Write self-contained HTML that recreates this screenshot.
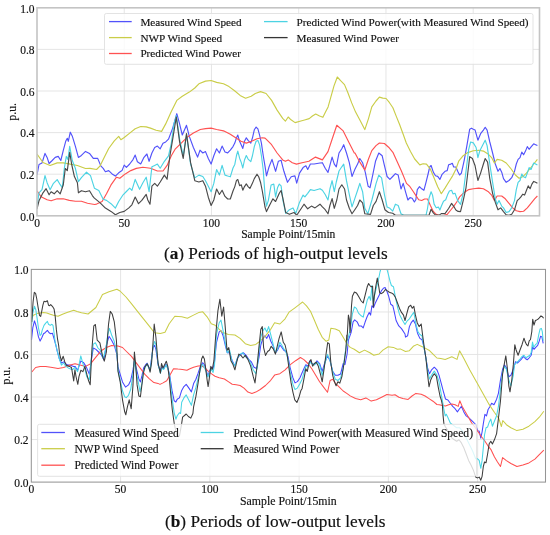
<!DOCTYPE html>
<html><head><meta charset="utf-8"><style>
html,body{margin:0;padding:0;background:#fff;}
svg{display:block;filter:blur(0.35px);}
text{font-family:"Liberation Serif", "DejaVu Serif", serif;fill:#111;stroke:#111;stroke-width:0.15px;}
</style></head><body>
<svg width="550" height="535" viewBox="0 0 550 535">
<rect width="550" height="535" fill="#fff"/>
<line x1="124.24" y1="7.8" x2="124.24" y2="215.8" stroke="#e2e2e2" stroke-width="0.9"/>
<line x1="211.48" y1="7.8" x2="211.48" y2="215.8" stroke="#e2e2e2" stroke-width="0.9"/>
<line x1="298.72" y1="7.8" x2="298.72" y2="215.8" stroke="#e2e2e2" stroke-width="0.9"/>
<line x1="385.96" y1="7.8" x2="385.96" y2="215.8" stroke="#e2e2e2" stroke-width="0.9"/>
<line x1="473.20" y1="7.8" x2="473.20" y2="215.8" stroke="#e2e2e2" stroke-width="0.9"/>
<line x1="37.0" y1="174.20" x2="539.5" y2="174.20" stroke="#e2e2e2" stroke-width="0.9"/>
<line x1="37.0" y1="132.60" x2="539.5" y2="132.60" stroke="#e2e2e2" stroke-width="0.9"/>
<line x1="37.0" y1="91.00" x2="539.5" y2="91.00" stroke="#e2e2e2" stroke-width="0.9"/>
<line x1="37.0" y1="49.40" x2="539.5" y2="49.40" stroke="#e2e2e2" stroke-width="0.9"/>
<clipPath id="c1"><rect x="37.0" y="7.8" width="502.50" height="208.00"/></clipPath>
<g clip-path="url(#c1)">
<polyline fill="none" stroke="#5252fa" stroke-width="1.15" stroke-linejoin="round" points="37.0,175.0 39.0,164.5 42.0,163.0 45.0,153.4 47.1,157.4 49.1,163.5 52.2,160.5 55.2,157.4 58.2,156.4 60.8,160.5 63.3,150.4 65.7,141.3 67.3,138.3 68.3,141.3 70.3,132.2 72.3,136.2 75.4,146.3 78.4,157.4 81.4,155.4 85.5,151.4 89.5,153.4 93.3,158.4 97.7,158.4 101.0,166.2 103.2,168.4 105.4,171.7 108.7,170.6 112.1,173.9 115.4,176.1 118.7,172.8 122.0,170.6 124.2,165.1 126.4,167.3 129.7,164.0 133.0,159.6 135.2,155.1 137.4,161.8 140.7,164.0 144.0,157.3 146.9,154.0 149.1,161.3 151.9,153.0 154.7,147.5 157.4,146.1 160.2,148.8 163.0,143.3 165.7,141.9 168.5,139.2 172.7,128.1 176.8,113.7 179.6,123.9 182.3,135.0 186.5,125.3 189.3,136.4 193.4,147.5 197.6,157.1 200.0,150.2 202.8,153.0 205.5,151.6 208.3,158.5 211.1,164.1 213.8,155.8 216.6,148.8 219.4,153.0 222.1,146.1 225.0,152.0 227.7,152.9 230.3,150.2 233.0,146.6 234.8,143.1 236.5,137.8 237.8,135.1 239.6,141.3 241.3,144.9 242.8,148.4 244.5,141.3 246.3,137.8 248.1,140.4 250.8,143.1 252.5,137.8 254.3,129.8 256.1,127.1 257.9,128.9 259.6,135.1 261.4,143.1 263.2,155.5 265.0,166.2 266.5,175.9 269.0,167.0 272.0,159.4 275.6,171.3 278.4,161.2 281.1,160.3 283.9,171.3 287.5,182.3 291.2,176.8 294.9,175.9 296.7,183.2 299.5,173.1 303.1,167.6 305.9,165.8 307.7,169.5 310.4,164.0 314.1,164.0 320.0,163.0 322.4,162.7 325.2,168.2 328.0,172.4 329.9,165.4 332.1,157.1 334.3,164.1 336.3,166.8 339.0,153.0 341.8,148.8 343.7,144.7 346.5,153.0 349.3,162.7 352.0,176.5 354.8,169.6 357.6,164.1 359.8,158.5 362.6,162.7 365.3,172.4 368.1,186.2 370.0,187.6 372.7,175.1 375.5,161.3 378.8,153.0 382.2,155.8 384.4,165.4 387.1,176.5 389.9,179.3 392.7,176.5 395.4,173.7 398.2,175.1 401.0,189.0 403.2,183.4 405.9,193.1 407.9,200.0 410.0,197.6 412.2,198.3 414.4,202.0 415.8,199.8 417.3,189.6 419.5,186.7 421.7,188.8 423.9,190.3 426.0,182.3 428.2,173.5 429.7,167.0 431.1,165.5 433.3,172.1 435.5,175.7 437.7,176.4 439.9,179.4 442.1,174.3 445.0,171.3 447.2,170.6 448.6,164.8 450.8,164.1 452.3,163.3 453.7,167.0 455.9,167.0 457.7,171.3 459.6,175.0 461.4,173.1 464.2,160.3 466.9,145.6 469.7,129.2 471.5,128.2 473.3,129.2 475.1,130.1 477.9,140.2 480.6,133.7 483.4,130.1 485.2,127.3 487.1,130.1 489.8,142.0 492.6,153.0 495.3,164.0 498.0,171.3 499.9,168.5 501.7,172.2 503.5,178.6 506.2,182.3 509.0,180.5 511.7,177.7 514.5,171.3 516.3,164.0 518.1,159.4 520.0,157.6 521.8,152.1 523.6,154.8 525.5,151.1 527.3,146.6 529.1,149.3 531.3,146.6 533.7,143.8 535.6,144.7 537.4,145.6"/>
<polyline fill="none" stroke="#cacd48" stroke-width="1.15" stroke-linejoin="round" points="37.0,154.0 43.0,162.5 50.1,165.5 57.2,162.9 63.3,162.9 70.3,164.1 77.4,165.5 85.5,168.5 90.0,168.4 96.6,169.5 99.9,166.2 104.3,157.3 108.7,148.5 114.3,140.8 118.7,136.4 120.9,139.7 124.2,137.5 129.7,133.1 135.2,128.7 140.7,126.5 146.2,126.9 150.5,128.1 156.1,130.3 161.6,131.4 165.7,123.9 171.3,111.5 176.8,100.4 182.3,96.3 189.3,92.1 194.8,88.0 198.9,83.8 205.5,81.1 211.1,80.5 216.6,82.4 223.5,83.8 229.0,86.6 234.6,90.7 240.1,95.4 245.6,98.2 251.2,96.3 255.3,93.5 260.5,91.6 266.1,93.5 271.6,100.4 277.1,110.1 282.7,118.4 285.4,121.2 288.2,117.0 291.0,119.8 295.1,122.6 300.0,121.3 304.6,120.0 309.2,118.6 312.4,116.0 315.7,114.1 319.6,116.0 322.9,117.3 325.5,112.1 328.1,106.9 330.7,97.7 334.0,85.9 337.3,77.0 340.6,80.7 344.5,84.6 347.8,92.5 351.7,102.9 355.6,112.1 360.0,120.3 364.8,129.6 368.5,118.6 371.8,106.9 376.0,101.0 379.4,97.1 382.8,98.1 386.1,98.5 389.5,102.7 392.9,107.7 396.2,116.1 399.6,124.5 403.0,133.8 406.3,143.0 410.5,151.5 414.7,159.0 419.8,164.9 423.1,163.7 426.5,164.1 429.0,167.4 430.4,169.2 434.1,177.9 437.7,186.7 441.3,193.7 445.0,188.1 448.6,182.3 452.3,176.4 455.9,169.2 458.7,161.2 463.2,155.7 467.8,152.6 473.3,150.8 478.8,150.2 483.4,151.1 488.0,153.9 491.6,157.6 494.4,163.0 497.1,159.4 501.7,160.3 506.2,163.0 510.8,168.5 515.4,175.0 519.1,178.3 522.7,176.8 526.4,173.1 530.1,168.5 533.7,164.0 537.4,159.4"/>
<polyline fill="none" stroke="#ff5252" stroke-width="1.15" stroke-linejoin="round" points="37.0,190.7 41.1,196.8 47.1,199.8 51.1,200.8 57.2,198.8 63.3,198.8 69.3,200.4 75.4,201.2 81.4,201.2 87.5,203.3 94.5,204.5 96.6,204.1 102.1,201.5 106.5,193.7 111.0,184.9 116.5,177.2 119.8,178.3 125.3,173.9 130.8,170.6 136.3,168.4 142.9,167.3 150.5,168.2 157.4,171.0 163.0,171.0 167.1,165.4 171.3,155.8 175.4,148.8 181.0,143.3 186.5,137.8 193.4,133.1 200.3,129.5 205.5,128.6 211.1,128.1 216.6,129.5 223.5,130.9 225.0,131.5 230.3,134.2 235.7,137.8 241.0,141.3 246.3,143.1 251.6,141.3 257.0,138.7 262.3,137.8 265.0,138.1 266.1,139.2 271.6,144.7 277.1,153.0 282.7,159.9 285.4,161.3 288.2,159.9 292.3,162.7 296.5,164.1 302.0,162.7 308.9,161.3 315.5,157.1 322.4,159.9 328.0,151.6 332.1,139.2 336.8,125.3 343.2,130.9 348.7,141.9 354.3,153.0 355.0,153.1 360.0,162.4 364.8,170.0 368.5,159.0 371.8,150.6 376.0,145.6 379.4,143.0 384.4,143.5 388.6,147.2 392.9,152.3 397.1,161.5 401.3,170.8 406.5,183.4 410.0,186.7 412.9,191.0 415.8,195.4 418.7,199.8 421.7,200.5 424.6,199.0 427.5,199.0 430.4,205.6 433.3,211.4 436.2,214.4 439.2,215.5 443.5,215.5 447.2,214.4 450.8,210.0 453.7,206.3 456.7,202.0 459.6,196.9 464.2,192.4 468.7,189.6 473.3,188.7 478.8,188.1 483.4,188.7 488.0,191.4 491.6,195.1 494.4,200.6 497.1,196.0 501.7,196.0 505.3,198.8 509.0,203.3 512.7,207.9 516.3,210.7 520.0,211.6 523.6,211.2 527.3,207.9 531.0,203.3 534.6,198.8 537.4,196.0"/>
<polyline fill="none" stroke="#4cd3e3" stroke-width="1.15" stroke-linejoin="round" points="37.0,205.9 39.0,192.8 42.0,189.7 45.0,175.6 47.1,182.7 50.1,189.7 53.2,183.7 57.2,179.6 60.2,184.7 62.3,187.7 64.3,168.5 66.3,156.4 67.9,159.5 69.7,146.3 72.3,160.5 75.4,168.5 78.4,181.7 81.4,177.6 86.5,172.2 90.5,175.6 94.4,188.2 98.8,190.4 103.2,199.3 106.5,200.4 111.0,203.7 115.4,208.1 118.7,201.5 123.1,194.8 126.4,191.5 129.7,188.2 131.9,190.4 135.2,179.4 139.6,189.3 142.9,182.7 146.2,177.2 149.1,191.7 151.9,166.8 154.7,165.4 157.4,164.1 160.2,168.2 164.4,161.3 168.5,155.8 171.3,143.3 174.0,123.9 176.3,115.6 179.6,139.2 183.2,155.8 186.5,135.0 190.6,164.1 194.8,177.9 198.9,175.1 202.8,176.5 205.5,180.7 208.3,186.2 211.1,191.7 213.8,183.4 216.6,169.6 219.4,175.1 222.1,165.4 225.0,175.1 227.7,176.0 230.3,176.8 233.0,168.0 234.8,164.4 236.5,155.5 237.8,151.1 239.6,158.2 241.3,162.6 242.8,168.0 244.5,160.0 246.3,155.5 248.1,159.1 250.8,161.7 252.5,155.5 254.3,146.6 256.1,141.3 257.9,140.4 259.6,144.9 261.4,155.5 263.2,169.7 265.0,194.6 266.5,206.1 268.3,200.6 271.1,185.0 273.8,184.1 275.6,196.9 277.5,187.8 279.3,184.1 281.1,185.9 283.0,200.6 285.7,213.4 289.4,209.7 293.0,207.9 295.8,213.4 299.5,202.4 303.1,195.1 304.9,196.9 307.7,193.3 310.4,189.6 314.1,190.5 320.0,188.7 322.4,190.3 325.2,194.5 328.0,200.0 329.9,189.0 332.1,180.7 334.3,191.7 336.3,182.0 339.0,171.0 341.8,166.8 343.7,164.1 346.5,180.7 349.3,194.5 352.0,206.9 354.8,198.6 357.6,190.3 359.8,183.4 362.6,191.7 364.8,208.3 367.8,213.8 371.9,200.0 376.1,183.4 378.8,175.1 381.6,177.9 384.4,194.5 387.1,206.9 389.9,208.3 392.7,211.1 395.4,204.2 398.2,205.5 401.0,213.8 403.7,215.3 426.0,215.3 427.5,208.5 429.0,198.3 431.1,191.8 432.6,195.4 434.1,204.1 436.2,207.8 438.4,207.1 439.9,210.0 441.3,206.3 443.5,201.2 445.7,199.8 447.9,193.9 449.4,191.0 451.6,190.3 453.0,193.9 455.0,193.3 457.7,200.6 460.5,204.3 463.2,193.3 466.0,171.3 468.7,149.3 470.6,142.0 473.3,142.9 476.1,147.5 477.9,157.6 479.7,151.1 482.5,145.6 485.2,140.2 487.1,145.6 489.8,164.0 492.6,182.3 495.3,198.8 497.1,204.3 499.0,200.6 501.7,206.1 503.5,207.9 506.2,212.5 509.0,211.6 511.7,207.9 514.5,200.6 516.3,189.6 518.1,182.3 520.0,180.5 521.8,174.0 523.6,176.8 525.5,177.7 527.3,173.1 529.1,167.6 531.0,169.5 533.7,163.0 535.6,164.0 537.4,164.9"/>
<polyline fill="none" stroke="#4a4a4a" stroke-width="1.15" stroke-linejoin="round" points="37.0,208.9 39.0,200.8 43.0,192.8 46.1,188.7 49.1,194.8 51.1,191.8 54.2,193.8 57.2,190.7 60.2,193.8 63.3,184.7 65.3,168.5 67.3,170.6 69.7,152.4 71.7,164.5 74.4,176.6 77.4,182.7 78.4,192.8 81.4,190.7 85.5,191.8 89.5,190.7 92.5,195.8 94.4,198.1 99.9,202.6 105.4,208.1 111.0,211.4 115.4,214.7 119.8,212.5 124.2,211.4 128.6,208.1 131.9,204.8 135.2,197.0 138.5,203.7 141.8,200.4 146.2,194.4 147.8,200.0 150.0,204.2 151.9,186.2 154.7,183.4 157.4,186.2 160.2,182.0 164.4,175.1 167.1,179.3 169.9,155.8 172.7,139.2 176.3,117.0 179.6,141.9 183.2,158.5 186.5,133.6 190.6,162.7 194.8,180.7 198.9,182.0 202.8,180.7 205.5,186.2 208.3,197.2 211.1,205.5 213.8,200.0 216.6,189.0 219.4,194.5 222.1,190.3 225.0,196.4 227.7,199.0 230.3,199.0 233.0,191.0 234.8,186.6 236.5,180.4 237.8,179.5 239.6,185.7 241.3,184.8 242.8,190.2 244.5,186.6 246.3,183.9 248.1,186.6 249.9,188.4 252.5,183.1 254.3,178.6 257.0,174.2 258.7,176.8 260.5,182.2 262.3,191.0 265.0,207.0 266.5,211.6 269.2,206.1 272.9,198.8 275.6,201.5 279.3,193.3 281.1,190.5 283.0,198.8 285.7,212.5 289.4,214.3 294.0,212.5 296.7,215.2 300.4,209.7 304.0,204.2 307.7,208.8 311.4,206.1 315.0,207.9 320.0,204.2 322.4,206.9 325.2,209.7 328.0,213.8 329.9,205.5 332.1,198.6 334.3,208.3 336.8,200.0 339.0,189.0 341.8,184.8 344.6,189.0 346.5,200.0 349.3,208.3 352.0,213.8 354.8,209.7 357.6,205.5 359.8,200.0 362.6,202.8 364.8,213.8 370.5,214.4 373.3,205.5 376.1,201.4 379.4,191.7 382.2,200.0 384.9,209.7 388.5,212.5 392.7,213.3 395.4,215.3 429.0,215.3 431.1,209.3 433.3,212.9 435.5,215.1 439.2,215.1 441.3,213.6 445.0,213.6 448.6,208.5 451.6,203.4 453.7,206.3 455.9,210.0 458.1,211.4 460.5,211.6 463.2,200.6 466.0,187.8 468.2,169.5 469.7,156.6 472.4,158.5 475.1,165.8 477.9,180.5 480.6,173.1 483.4,164.0 485.2,158.5 487.6,162.1 489.8,178.6 492.6,193.3 495.3,202.4 498.0,209.8 500.7,207.9 503.5,211.6 506.2,214.9 509.0,215.3 511.7,214.3 514.5,209.8 517.2,200.6 519.1,198.8 520.9,196.9 522.7,194.2 524.6,195.1 526.4,190.5 528.2,185.9 530.1,188.7 531.9,184.1 533.7,181.4 535.6,182.3 537.4,183.2"/>
</g>
<rect x="104.5" y="13.5" width="428.5" height="50.8" rx="1.8" fill="#fff" fill-opacity="0.8" stroke="#e0e0e0" stroke-width="0.9"/>
<line x1="109" y1="21.6" x2="131.7" y2="21.6" stroke="#5252fa" stroke-width="1.3"/>
<text x="140.4" y="25.5" font-size="11.2">Measured Wind Speed</text>
<line x1="109" y1="37.6" x2="131.7" y2="37.6" stroke="#cacd48" stroke-width="1.3"/>
<text x="140.4" y="41.5" font-size="11.2">NWP Wind Speed</text>
<line x1="109" y1="53.5" x2="131.7" y2="53.5" stroke="#ff5252" stroke-width="1.3"/>
<text x="140.4" y="57.4" font-size="11.2">Predicted Wind Power</text>
<line x1="264" y1="21.6" x2="287.6" y2="21.6" stroke="#4cd3e3" stroke-width="1.3"/>
<text x="296.5" y="25.5" font-size="11.2">Predicted Wind Power(with Measured Wind Speed)</text>
<line x1="264" y1="37.6" x2="287.6" y2="37.6" stroke="#353535" stroke-width="1.3"/>
<text x="296.5" y="41.5" font-size="11.2">Measured Wind Power</text>
<rect x="37.0" y="7.8" width="502.50" height="208.00" fill="none" stroke="#c4c4c4" stroke-width="1.6"/>
<text x="34.50" y="220.50" text-anchor="end" font-size="11.5">0.0</text>
<text x="34.50" y="178.90" text-anchor="end" font-size="11.5">0.2</text>
<text x="34.50" y="137.30" text-anchor="end" font-size="11.5">0.4</text>
<text x="34.50" y="95.70" text-anchor="end" font-size="11.5">0.6</text>
<text x="34.50" y="54.10" text-anchor="end" font-size="11.5">0.8</text>
<text x="34.50" y="12.50" text-anchor="end" font-size="11.5">1.0</text>
<text x="37.00" y="226.70" text-anchor="middle" font-size="11.5">0</text>
<text x="124.24" y="226.70" text-anchor="middle" font-size="11.5">50</text>
<text x="211.48" y="226.70" text-anchor="middle" font-size="11.5">100</text>
<text x="298.72" y="226.70" text-anchor="middle" font-size="11.5">150</text>
<text x="385.96" y="226.70" text-anchor="middle" font-size="11.5">200</text>
<text x="473.20" y="226.70" text-anchor="middle" font-size="11.5">250</text>
<text x="288.25" y="238.10" text-anchor="middle" font-size="11.5">Sample Point/15min</text>
<text transform="translate(16.20,111.80) rotate(-90)" text-anchor="middle" font-size="11.5">p.u.</text>
<text x="164" y="258.6" font-size="16.3" textLength="223.7" lengthAdjust="spacingAndGlyphs">(<tspan font-weight="bold">a</tspan>) Periods of high-output levels</text>
<line x1="120.57" y1="269.4" x2="120.57" y2="482.1" stroke="#e2e2e2" stroke-width="0.9"/>
<line x1="209.84" y1="269.4" x2="209.84" y2="482.1" stroke="#e2e2e2" stroke-width="0.9"/>
<line x1="299.11" y1="269.4" x2="299.11" y2="482.1" stroke="#e2e2e2" stroke-width="0.9"/>
<line x1="388.38" y1="269.4" x2="388.38" y2="482.1" stroke="#e2e2e2" stroke-width="0.9"/>
<line x1="477.65" y1="269.4" x2="477.65" y2="482.1" stroke="#e2e2e2" stroke-width="0.9"/>
<line x1="31.3" y1="439.56" x2="545.5" y2="439.56" stroke="#e2e2e2" stroke-width="0.9"/>
<line x1="31.3" y1="397.02" x2="545.5" y2="397.02" stroke="#e2e2e2" stroke-width="0.9"/>
<line x1="31.3" y1="354.48" x2="545.5" y2="354.48" stroke="#e2e2e2" stroke-width="0.9"/>
<line x1="31.3" y1="311.94" x2="545.5" y2="311.94" stroke="#e2e2e2" stroke-width="0.9"/>
<clipPath id="c2"><rect x="31.3" y="269.4" width="514.20" height="212.70"/></clipPath>
<g clip-path="url(#c2)">
<polyline fill="none" stroke="#4646ff" stroke-width="1.05" stroke-linejoin="round" points="31.5,340.0 32.8,327.6 34.5,320.9 35.8,324.8 37.0,329.9 38.4,336.6 40.1,341.1 41.8,337.7 43.5,333.8 45.1,332.7 47.4,330.4 49.1,332.7 50.7,333.8 52.4,333.2 54.1,338.8 55.8,345.0 57.4,351.8 59.6,359.6 61.4,363.0 63.6,361.9 67.0,364.8 70.4,365.2 73.7,366.4 75.0,366.4 77.6,370.3 80.8,361.1 83.4,362.4 86.0,366.4 89.4,374.2 91.2,361.1 93.3,348.0 95.9,349.4 98.6,352.0 101.2,354.6 103.8,359.8 106.4,345.4 109.0,336.3 111.6,340.2 114.3,345.4 116.9,354.6 118.0,366.9 120.2,374.4 122.5,381.9 125.5,387.1 128.5,384.9 130.7,380.4 133.0,369.9 134.4,360.9 136.7,369.9 138.9,378.9 140.4,381.9 141.9,375.9 143.7,367.7 145.7,364.7 147.2,363.2 148.7,366.9 150.1,369.9 151.6,357.9 153.1,347.5 154.6,345.2 155.9,349.3 158.3,365.7 160.4,370.0 162.2,366.4 163.7,368.7 166.0,364.2 167.8,367.9 169.7,375.4 172.0,390.4 174.2,400.8 175.9,402.0 177.2,399.3 179.4,397.9 181.7,390.4 183.9,386.6 186.2,384.4 188.4,387.4 191.4,391.9 193.6,383.6 195.9,379.2 198.1,373.2 200.4,366.4 202.6,362.7 204.6,365.0 206.4,370.9 207.9,376.2 209.6,370.9 211.6,367.2 213.1,368.7 214.5,362.0 216.5,342.3 219.2,331.9 221.0,330.6 223.1,335.8 225.2,345.0 227.3,352.8 229.6,352.8 232.2,360.7 234.9,365.9 237.5,358.0 240.1,354.9 243.5,352.8 246.1,355.4 248.7,359.4 251.4,362.0 254.0,367.2 256.6,368.5 258.9,358.0 260.8,345.0 262.9,338.4 264.9,335.8 266.8,338.4 268.6,334.5 270.7,341.0 273.3,346.3 275.4,352.8 277.5,350.2 279.9,345.0 281.7,347.1 283.8,350.2 285.9,351.5 288.0,356.7 290.3,368.5 292.9,377.7 295.0,382.9 297.4,381.6 300.0,377.8 302.1,372.7 303.9,368.7 305.8,364.8 307.9,366.1 309.9,360.9 311.8,363.5 314.4,364.8 317.0,360.9 319.6,363.5 322.2,371.4 324.9,362.2 327.5,355.7 330.1,360.9 332.7,371.4 335.3,375.3 337.9,375.3 340.6,374.0 343.2,363.5 345.0,364.5 347.1,354.0 348.4,340.0 351.1,332.6 353.1,321.8 354.7,319.8 357.1,321.8 359.1,325.9 361.2,325.9 363.2,327.9 365.2,321.8 367.2,316.5 369.2,312.4 370.6,315.1 371.9,305.7 373.5,307.7 375.3,303.0 377.3,299.0 379.3,294.9 381.3,290.9 383.4,288.2 385.1,287.5 386.7,290.9 388.7,296.3 390.8,304.3 392.8,305.7 394.1,311.1 396.1,320.5 398.8,325.9 401.5,328.6 405.0,334.0 405.5,337.1 407.6,335.8 409.4,326.6 411.2,322.7 413.3,320.1 415.4,324.0 417.5,333.2 419.9,338.4 422.0,339.7 423.8,346.3 425.9,358.0 427.7,368.5 429.5,373.7 431.6,369.8 434.3,367.2 436.9,369.8 439.0,375.1 441.1,382.9 443.2,390.8 445.5,399.0 447.9,400.0 450.3,403.2 452.7,406.4 455.1,408.7 457.4,411.9 459.0,409.5 461.4,406.4 463.8,411.9 466.2,415.9 468.6,417.5 471.0,419.9 473.3,422.2 475.7,424.6 477.6,431.0 479.2,431.0 480.8,438.1 482.1,431.8 483.3,423.8 484.9,414.3 486.5,415.9 488.1,409.5 490.0,406.4 491.6,403.2 494.0,404.8 496.6,399.2 498.4,393.3 500.5,379.8 502.6,369.3 504.4,364.9 506.4,367.8 508.8,376.8 510.9,375.3 513.3,369.3 515.5,361.7 517.4,363.0 519.4,361.1 521.4,359.1 523.3,356.5 525.3,358.5 527.2,359.8 529.2,357.8 531.2,355.2 532.7,346.7 534.0,349.3 535.7,347.3 537.7,345.4 539.3,340.8 540.6,336.2 541.9,336.9 543.2,343.4"/>
<polyline fill="none" stroke="#cacd48" stroke-width="1.05" stroke-linejoin="round" points="31.5,318.6 33.4,315.3 36.7,313.6 40.1,313.0 43.5,312.5 46.8,313.0 50.2,314.2 53.5,315.3 58.0,316.2 62.5,314.2 67.0,312.5 70.0,311.4 73.7,310.3 77.1,311.4 81.5,312.7 88.1,314.0 95.9,307.5 102.5,294.4 109.0,291.8 116.9,289.2 120.0,291.0 126.0,297.0 132.0,304.4 137.9,311.9 143.9,319.4 149.9,326.9 154.4,332.8 160.4,333.4 165.0,332.2 169.2,323.8 174.8,316.3 181.8,316.8 187.4,318.2 193.0,315.4 198.6,312.6 202.8,311.8 207.1,316.8 211.3,323.8 215.2,325.3 221.8,331.9 228.3,334.5 234.9,335.0 240.1,338.4 245.3,343.7 250.6,345.5 255.8,344.4 260.2,341.0 265.5,335.8 270.7,329.3 274.6,322.7 279.9,324.0 285.1,318.8 289.0,312.2 294.3,308.3 299.5,304.4 302.6,302.0 306.5,305.9 310.5,311.2 314.4,320.3 318.3,329.5 322.2,337.3 326.2,341.3 328.8,340.0 330.9,328.2 335.3,329.0 339.3,330.8 343.2,337.3 347.1,344.0 350.2,347.4 354.2,349.3 359.4,352.7 364.6,350.1 369.9,352.7 373.8,355.3 379.0,354.0 382.9,350.1 388.2,346.7 393.4,347.4 397.3,349.3 400.2,348.9 405.5,351.5 409.4,350.7 413.3,346.3 417.2,344.4 421.2,346.3 425.1,348.1 429.0,350.2 433.0,354.1 436.9,358.0 440.8,358.5 445.2,359.4 451.8,356.8 457.0,359.4 459.6,350.8 463.6,358.1 469.8,370.0 479.5,387.2 489.1,404.4 494.5,412.5 498.8,418.5 501.4,426.5 502.8,420.5 506.4,424.7 510.9,427.7 516.9,430.6 522.9,429.2 528.9,426.2 534.9,421.7 539.3,417.2 543.8,411.2"/>
<polyline fill="none" stroke="#ff5050" stroke-width="1.05" stroke-linejoin="round" points="31.8,372.0 35.6,367.5 40.1,366.4 45.7,366.4 52.4,367.5 58.0,368.6 63.6,367.5 69.3,365.2 75.0,363.7 80.2,365.1 85.5,366.4 90.7,363.7 95.9,357.2 101.2,350.7 106.4,347.5 111.6,345.4 116.9,346.0 118.0,346.0 122.5,347.5 127.0,352.0 131.5,356.4 135.9,362.4 140.4,368.4 144.9,374.4 149.4,378.9 153.9,382.6 158.0,383.4 160.0,384.4 163.0,382.9 166.7,380.7 169.7,375.4 173.5,368.7 177.9,369.1 182.4,369.4 186.9,370.2 189.9,368.7 193.6,367.2 198.1,366.1 201.1,365.7 204.1,367.2 207.9,370.9 211.6,373.9 215.0,376.2 219.2,377.7 224.4,379.0 228.3,381.6 232.2,384.2 236.2,384.7 240.1,385.5 244.0,388.1 247.9,392.1 251.9,393.4 255.8,392.1 260.2,389.5 265.5,385.5 270.7,380.3 274.6,375.1 279.9,373.7 285.1,369.8 290.3,364.6 295.6,360.7 300.4,357.5 303.9,359.6 307.9,363.5 311.8,368.7 315.7,375.3 319.6,381.8 323.6,387.1 327.5,392.3 330.1,380.5 332.7,379.2 335.3,383.1 339.3,387.1 343.2,391.0 347.1,393.6 350.2,395.9 355.5,398.5 360.7,399.8 365.9,397.9 371.2,401.1 376.4,399.8 381.6,397.2 386.9,394.5 392.1,395.3 395.0,394.7 398.9,397.3 402.9,398.6 408.1,399.4 412.0,396.0 415.9,393.4 421.2,394.2 425.1,396.0 429.0,398.6 433.0,401.2 436.9,404.5 439.2,404.8 442.4,405.6 445.5,406.0 448.7,404.8 451.9,404.0 455.1,404.8 458.2,406.4 459.8,400.8 462.2,406.4 465.4,411.9 468.6,417.5 471.7,423.0 474.9,427.0 478.1,431.8 481.3,436.5 484.5,440.5 487.6,445.3 490.8,449.3 494.5,457.0 497.5,462.0 500.5,466.5 502.6,457.6 506.4,460.6 510.9,463.5 516.9,466.5 522.9,465.0 528.9,462.9 534.9,459.1 539.3,454.6 543.8,450.1"/>
<polyline fill="none" stroke="#48d6e6" stroke-width="1.05" stroke-linejoin="round" points="31.5,325.4 32.8,313.0 34.5,306.3 35.8,309.7 37.0,317.5 38.4,327.6 40.1,335.5 41.2,334.3 42.3,329.9 44.0,325.4 45.7,323.1 47.4,321.4 48.5,324.3 50.2,325.4 51.9,324.3 53.0,325.4 54.1,333.2 55.2,342.2 56.9,349.5 59.2,358.5 61.4,365.2 63.6,363.0 65.9,366.4 69.3,368.6 72.6,369.7 74.9,367.5 77.6,371.6 80.8,355.9 82.9,363.7 84.9,369.0 86.8,376.8 89.4,379.5 91.2,358.5 93.3,344.1 95.4,342.8 98.0,348.0 100.6,350.7 103.3,358.5 105.9,348.0 107.7,335.0 109.5,328.4 111.6,335.0 114.3,341.5 116.9,353.3 118.0,369.9 120.2,380.4 122.5,390.8 124.7,396.8 126.2,397.6 128.5,395.3 130.7,389.3 133.0,374.4 134.4,360.9 135.9,369.9 138.2,381.9 140.1,391.6 141.9,383.4 143.4,372.1 145.7,366.2 147.2,363.9 148.7,367.7 150.1,370.7 151.6,359.4 153.1,346.0 154.6,341.5 155.9,344.8 158.3,365.7 160.4,373.2 162.2,368.0 163.7,369.4 166.0,365.0 168.2,369.4 169.7,376.9 172.0,397.9 174.2,412.8 175.9,419.2 177.2,415.8 179.4,412.8 180.6,413.5 181.7,402.3 183.9,397.9 186.2,394.9 188.4,399.3 191.4,405.3 193.6,394.9 195.9,387.4 198.1,378.4 200.4,369.4 202.3,364.2 204.6,367.9 206.4,372.4 207.9,376.9 209.6,372.4 211.6,369.4 213.1,372.4 214.5,365.0 216.5,334.5 219.2,322.7 221.0,320.1 223.1,330.6 225.2,342.3 227.3,352.8 229.6,350.2 232.2,362.0 234.9,365.9 237.5,358.0 240.1,354.1 242.7,352.8 245.3,356.7 247.9,358.6 250.6,363.3 253.2,369.8 255.8,373.7 257.5,366.0 258.9,351.5 260.8,337.1 262.9,330.6 264.9,328.0 266.8,331.9 268.6,326.6 270.7,334.5 273.3,345.0 275.4,352.8 277.5,348.9 279.9,342.3 281.7,345.0 283.8,348.9 285.9,351.5 288.0,359.4 290.3,372.4 292.9,384.2 295.0,389.5 297.4,388.1 300.0,383.5 302.1,379.2 303.9,372.7 305.8,366.1 307.9,367.4 309.9,362.2 311.8,363.5 314.4,364.8 317.0,362.2 319.6,364.8 322.2,375.3 324.9,363.5 327.5,354.4 330.1,360.9 332.7,371.4 335.3,379.2 337.9,380.5 340.6,377.9 343.2,368.7 345.0,354.0 347.1,340.9 347.7,340.0 350.4,328.6 352.4,313.8 354.4,307.0 356.4,308.4 358.5,313.1 361.2,315.8 363.2,317.1 365.2,308.4 367.2,300.3 369.2,296.3 370.6,300.3 371.9,285.5 373.3,304.3 374.6,294.9 376.6,286.8 378.6,278.8 380.0,272.0 382.5,263.5 385.3,263.5 388.1,273.4 390.1,281.5 391.4,285.5 393.5,286.8 395.5,297.6 397.5,307.0 399.5,314.4 402.2,319.8 405.0,324.5 406.8,321.4 409.4,318.8 412.0,314.9 413.8,312.2 415.9,324.0 418.0,331.9 419.9,334.5 422.0,335.8 423.8,346.3 425.9,358.0 427.7,371.1 429.5,379.0 431.6,375.1 434.3,371.1 436.9,375.1 439.0,381.6 441.1,393.4 443.2,405.2 443.9,409.5 445.2,415.9 446.3,414.3 447.9,417.5 450.3,423.0 453.5,425.4 456.7,427.8 459.8,427.8 463.0,431.8 466.2,438.1 469.4,444.5 472.5,450.8 475.7,458.8 477.6,458.8 479.2,460.4 480.8,468.3 482.1,460.4 483.3,447.7 484.5,435.0 486.0,427.8 487.6,427.0 489.2,422.2 490.8,419.1 492.4,426.2 494.0,422.2 496.6,415.7 498.4,406.7 500.5,388.8 502.6,372.3 504.4,366.4 506.4,369.3 508.8,379.8 510.9,385.8 513.3,375.3 514.5,365.0 516.1,363.0 518.1,361.1 520.0,359.1 522.0,356.5 524.0,355.2 525.9,357.8 527.9,356.5 529.9,355.2 531.2,352.6 532.5,342.1 533.8,347.3 535.4,344.7 537.1,343.4 538.8,334.3 540.1,329.0 541.4,328.4 542.3,331.6 543.2,340.8"/>
<polyline fill="none" stroke="#3c3c3c" stroke-width="1.05" stroke-linejoin="round" points="31.7,322.0 33.1,301.8 34.3,292.3 35.6,293.4 36.7,298.5 38.1,307.4 39.5,315.3 40.7,316.4 41.8,310.8 42.9,305.2 44.0,301.3 45.7,301.8 47.4,300.7 48.5,305.2 49.6,305.7 50.7,304.6 52.4,306.3 54.1,309.1 55.2,316.4 56.4,329.9 57.5,338.8 58.6,345.0 59.6,354.0 61.4,360.8 63.2,356.3 64.8,361.9 66.3,365.2 69.3,366.4 71.5,367.5 73.7,380.9 74.9,369.7 76.0,376.5 77.8,384.3 78.9,376.8 80.8,370.3 82.9,371.6 84.9,366.4 86.8,374.2 88.6,380.8 90.2,384.7 92.0,348.0 93.8,325.8 95.4,324.5 97.2,340.2 99.9,342.8 102.5,355.9 104.3,361.1 106.4,352.0 108.5,324.5 110.3,311.4 112.2,314.0 114.3,321.9 116.4,340.2 118.0,371.4 120.2,381.9 122.5,399.8 124.7,411.8 125.8,414.8 127.3,407.3 129.2,399.8 131.2,408.8 133.0,384.9 134.4,352.0 135.6,363.9 137.1,384.9 138.9,396.1 140.4,396.8 141.9,384.9 143.4,372.9 144.9,366.9 147.2,363.9 148.7,366.9 150.1,372.1 151.6,362.4 152.7,347.5 154.2,324.0 155.9,337.3 158.0,362.8 160.4,373.2 161.5,363.5 163.0,368.0 164.5,365.0 166.3,361.2 167.8,366.4 169.3,378.4 170.8,394.9 172.3,409.8 174.2,423.3 175.4,429.0 177.0,436.0 179.5,436.0 181.6,423.8 182.6,417.1 186.2,414.0 188.4,416.5 190.8,418.1 192.9,413.5 193.6,406.8 195.9,396.4 198.1,382.9 200.1,369.4 201.6,359.0 202.9,356.0 204.4,359.0 205.6,367.9 207.1,379.9 208.1,386.6 209.3,378.4 210.8,366.4 212.3,369.4 213.9,360.7 215.8,334.5 217.9,310.9 219.9,299.2 221.8,316.2 223.6,307.0 225.2,326.6 227.0,350.2 228.8,347.6 230.9,360.7 233.0,364.6 234.9,369.8 236.7,362.0 238.8,354.1 240.9,355.4 243.0,358.0 245.3,355.4 247.9,359.4 250.6,365.9 253.2,376.4 255.0,382.9 257.1,365.9 258.9,347.6 260.8,329.3 262.3,326.6 263.6,347.6 265.5,355.4 267.6,351.5 269.4,350.2 271.2,346.3 273.3,348.9 275.4,354.1 277.2,346.3 279.1,338.4 281.2,331.9 283.3,342.3 285.1,345.0 286.9,352.8 289.0,368.5 291.1,382.9 292.9,392.1 294.8,399.9 296.9,402.5 299.0,397.3 300.8,390.8 302.1,388.4 303.9,379.2 305.8,368.7 307.3,371.4 309.2,362.2 311.0,359.6 312.6,366.1 314.4,363.5 316.2,362.2 318.3,366.1 320.4,374.0 322.2,381.8 324.1,368.7 326.2,353.0 327.7,342.6 329.3,343.9 330.9,363.5 332.7,375.3 334.5,381.8 336.1,385.8 337.9,381.8 339.8,383.1 341.9,376.6 344.0,363.5 345.8,350.4 346.8,335.0 347.0,340.0 348.4,315.1 349.3,319.1 350.1,332.6 351.5,305.7 352.4,296.3 354.4,292.0 356.4,292.9 358.5,296.3 361.2,301.0 363.2,303.0 365.2,294.9 367.2,286.8 368.6,283.5 369.9,285.5 371.2,286.8 372.6,286.2 373.3,307.0 374.3,296.3 375.7,286.8 377.3,278.1 378.6,285.5 379.7,292.9 381.3,293.6 383.4,292.2 385.4,289.5 387.4,290.9 389.4,292.2 391.4,292.9 393.5,294.2 395.5,297.6 397.5,303.0 399.5,308.4 401.5,312.4 403.5,315.1 405.0,320.5 406.8,313.6 408.6,307.0 410.7,305.2 412.3,308.3 413.8,306.2 415.4,314.9 417.2,322.7 419.1,326.6 421.2,324.0 422.7,335.8 424.3,347.6 425.9,358.0 427.5,373.7 429.0,386.8 430.6,380.3 432.4,376.4 434.3,373.7 436.4,376.4 438.2,386.8 440.0,396.0 441.3,400.0 442.4,405.0 443.1,415.9 443.9,423.8 445.5,427.0 448.7,431.8 451.9,438.1 454.3,439.7 456.7,441.3 459.0,439.7 461.4,442.9 463.8,447.7 466.2,454.0 468.6,460.4 471.0,465.1 473.3,469.9 475.7,477.1 477.6,477.9 479.2,477.1 480.8,480.2 482.1,476.3 483.3,466.7 484.5,462.0 486.0,462.8 487.6,454.0 489.2,443.7 490.8,441.3 492.4,444.0 494.5,439.6 496.6,433.6 498.4,418.7 500.5,400.7 502.6,373.8 504.4,363.4 505.8,355.9 507.3,367.8 508.8,385.8 510.0,391.8 511.8,379.8 513.3,364.9 514.8,344.7 516.1,350.0 518.1,355.2 520.0,350.0 522.0,344.7 524.0,338.2 525.3,342.1 526.6,344.7 527.9,346.0 529.2,340.8 530.5,339.5 531.8,331.6 532.7,319.2 534.0,325.1 535.4,320.5 536.7,319.9 538.0,319.2 539.3,317.9 541.0,315.9 542.3,316.6 543.6,318.3"/>
</g>
<rect x="37.6" y="424.3" width="439" height="52" rx="1.8" fill="#fff" fill-opacity="0.8" stroke="#e0e0e0" stroke-width="0.9"/>
<line x1="41.3" y1="432.5" x2="64.9" y2="432.5" stroke="#5252fa" stroke-width="1.3"/>
<text x="74.4" y="436.5" font-size="11.55">Measured Wind Speed</text>
<line x1="41.3" y1="448.7" x2="64.9" y2="448.7" stroke="#cacd48" stroke-width="1.3"/>
<text x="74.4" y="452.7" font-size="11.55">NWP Wind Speed</text>
<line x1="41.3" y1="465.2" x2="64.9" y2="465.2" stroke="#ff5252" stroke-width="1.3"/>
<text x="74.4" y="469.2" font-size="11.55">Predicted Wind Power</text>
<line x1="200.7" y1="432.5" x2="223.6" y2="432.5" stroke="#4cd3e3" stroke-width="1.3"/>
<text x="233.5" y="436.5" font-size="11.55">Predicted Wind Power(with Measured Wind Speed)</text>
<line x1="200.7" y1="448.7" x2="223.6" y2="448.7" stroke="#353535" stroke-width="1.3"/>
<text x="233.5" y="452.7" font-size="11.55">Measured Wind Power</text>
<rect x="31.3" y="269.4" width="514.20" height="212.70" fill="none" stroke="#959595" stroke-width="1.05"/>
<text x="28.60" y="486.90" text-anchor="end" font-size="11.5">0.0</text>
<text x="28.60" y="444.36" text-anchor="end" font-size="11.5">0.2</text>
<text x="28.60" y="401.82" text-anchor="end" font-size="11.5">0.4</text>
<text x="28.60" y="359.28" text-anchor="end" font-size="11.5">0.6</text>
<text x="28.60" y="316.74" text-anchor="end" font-size="11.5">0.8</text>
<text x="28.60" y="274.20" text-anchor="end" font-size="11.5">1.0</text>
<text x="31.30" y="493.00" text-anchor="middle" font-size="11.5">0</text>
<text x="120.57" y="493.00" text-anchor="middle" font-size="11.5">50</text>
<text x="209.84" y="493.00" text-anchor="middle" font-size="11.5">100</text>
<text x="299.11" y="493.00" text-anchor="middle" font-size="11.5">150</text>
<text x="388.38" y="493.00" text-anchor="middle" font-size="11.5">200</text>
<text x="477.65" y="493.00" text-anchor="middle" font-size="11.5">250</text>
<text x="288.40" y="505.10" text-anchor="middle" font-size="11.8">Sample Point/15min</text>
<text transform="translate(10.30,375.75) rotate(-90)" text-anchor="middle" font-size="11.8">p.u.</text>
<text x="165" y="526.8" font-size="16.3" textLength="220.5" lengthAdjust="spacingAndGlyphs">(<tspan font-weight="bold">b</tspan>) Periods of low-output levels</text>
</svg>
</body></html>
